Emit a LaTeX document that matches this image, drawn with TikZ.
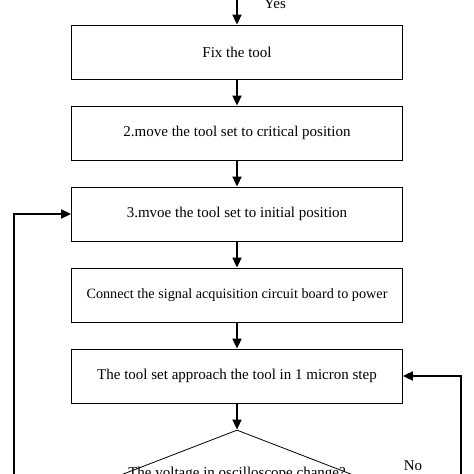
\documentclass[tikz,border=0pt]{standalone}
\usepackage{fontspec}
\setmainfont{Liberation Serif}
\usetikzlibrary{shapes,shapes.geometric,arrows,arrows.meta,calc,positioning}
\tikzset{box/.style={draw, rectangle, line width=0.8pt, minimum width=331pt, minimum height=54pt, inner sep=2pt, font=\fontsize{15}{18}\selectfont}}
\tikzstyle{dec}=[draw, diamond, line width=0.8pt, minimum width=238pt, minimum height=92pt, inner sep=0pt]
\tikzstyle{lbl}=[anchor=base, inner sep=0pt, font=\fontsize{15}{18}\selectfont]

\begin{document}
\begin{tikzpicture}[x=1pt, y=1pt, >={Triangle[length=10pt,width=9pt]}, line width=1.8pt, node distance=81pt]
\useasboundingbox (0,0) rectangle (474,-474);
\node[box] (S1) at (237,-52) {Fix the tool};
\node[box][below of =S1] (S2) {2.move the tool set to critical position};
\node[box][below of =S2] (S3) {3.mvoe the tool set to initial position};
\node[box, font=\fontsize{14.2}{17}\selectfont][below of =S3] (S4) {Connect the signal acquisition circuit board to power};
\node[box][below of =S4] (S5) {The tool set approach the tool in 1 micron step};
\node[dec][below of =S5, node distance=100pt] (D) {};
\node[lbl] (Dt) at (237,-477) {The voltage in oscilloscope change?};

\coordinate (In) at (237,0);
\coordinate (L) at (14,-474);
\coordinate (R) at (461,-474);
\node[lbl] (yes) at (275,-8) {Yes};
\node[lbl] (no) at (413,-470) {No};

\path[->](In) edge (S1)
	(S1) edge (S2)
	(S2) edge (S3)
	(S3) edge (S4)
	(S4) edge (S5)
	(S5) edge (D)
;
\draw[->] (L) |- (S3);
\draw[->] (R) |- (S5);
\end{tikzpicture}
\end{document}
